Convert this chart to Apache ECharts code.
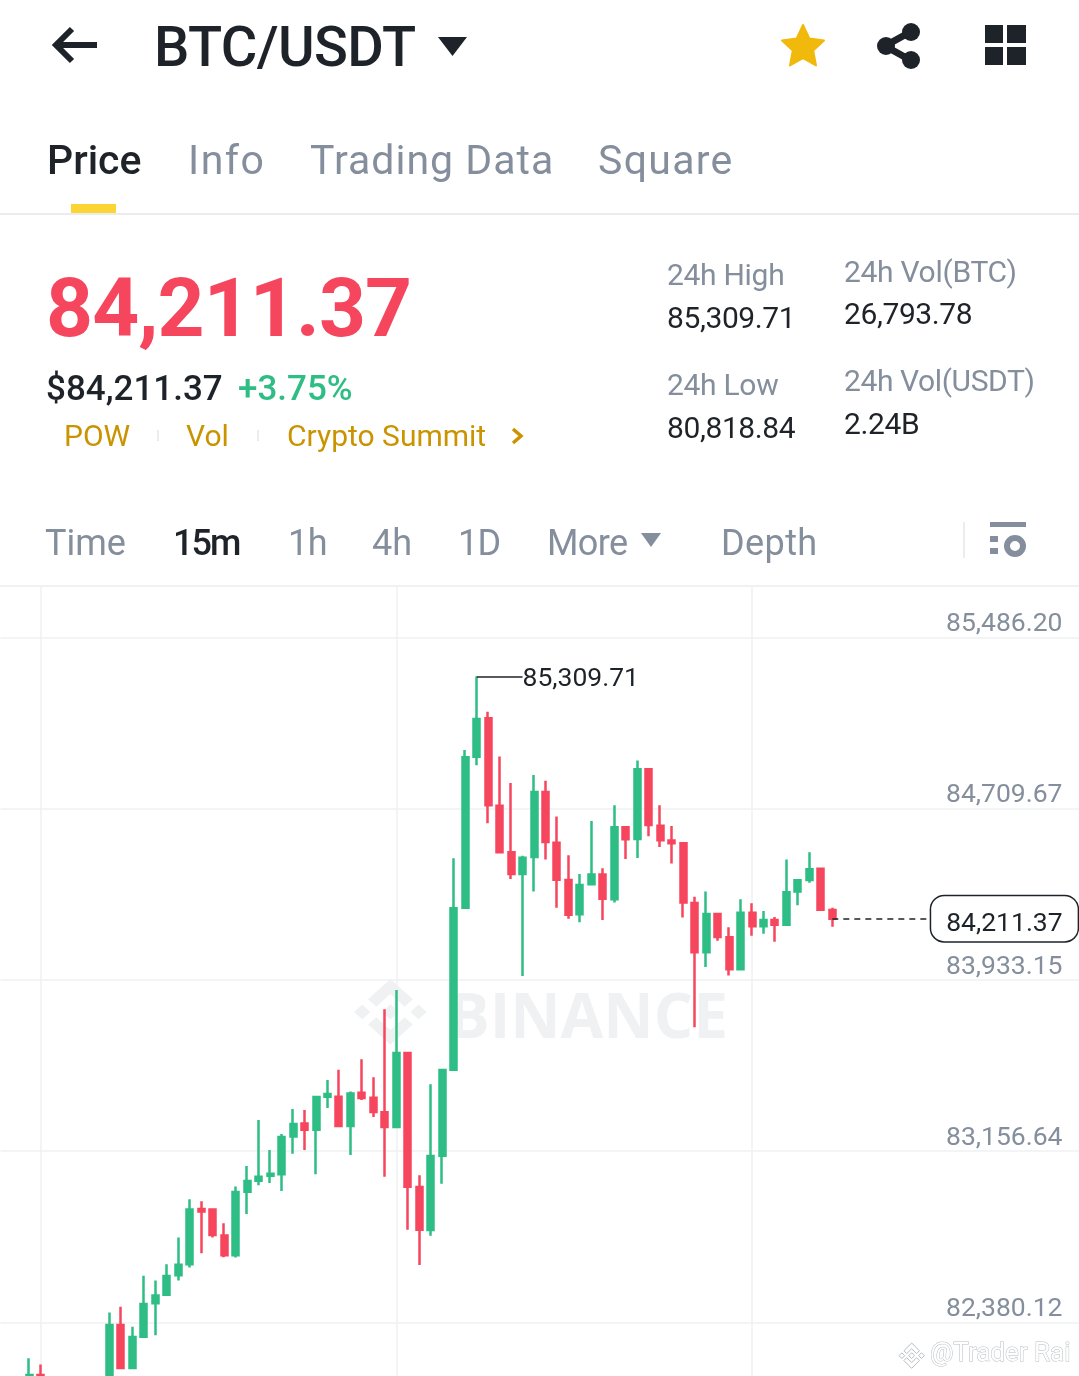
<!DOCTYPE html>
<html>
<head>
<meta charset="utf-8">
<title>BTC/USDT</title>
<script src="https://cdn.jsdelivr.net/npm/echarts@6/dist/echarts.min.js"></script>
<style>
html,body{margin:0;padding:0;background:#fff;width:1079px;height:1376px;overflow:hidden;font-family:Roboto,sans-serif}
#main{position:absolute;left:0;top:0;width:1079px;height:1376px}
.t{position:absolute;white-space:nowrap;line-height:1;color:#848e9c;z-index:2}
.dark{color:#1e2329}
.gold{color:#c99400}
.rule{position:absolute;background:#eaecef;z-index:2}
svg{position:absolute;z-index:2}
</style>
</head>
<body>
<div id="main"></div>

<!-- top bar -->
<svg style="left:50px;top:24px" width="50" height="42" viewBox="0 0 50 42"><path d="M47 21H6M22 5L6 21l16 16" fill="none" stroke="#1e2329" stroke-width="6"/></svg>
<span class="t dark" style="left:154px;top:19px;font-size:56px;font-weight:500;letter-spacing:-0.6px">BTC/USDT</span>
<svg style="left:438px;top:36px" width="30" height="21"><path d="M0 1h29L14.500 20z" fill="#1e2329"/></svg>
<svg style="left:779px;top:22px" width="48" height="48" viewBox="0 0 24 24"><path d="M12 1.500l3.200 6.800 7.300.9-5.400 5.100 1.400 7.400L12 18.100l-6.500 3.600 1.400-7.400L1.500 9.200l7.300-.9z" fill="#f0b90b" stroke="#f0b90b" stroke-linejoin="round"/></svg>
<svg style="left:876px;top:22px" width="46" height="48" viewBox="0 0 46 48"><path d="M36 9L9 24l27 15" fill="none" stroke="#1e2329" stroke-width="7"/><circle cx="35" cy="10" r="9" fill="#1e2329"/><circle cx="10" cy="24" r="9" fill="#1e2329"/><circle cx="35" cy="38" r="9" fill="#1e2329"/></svg>
<svg style="left:985px;top:25px" width="41" height="41"><path d="M0 0h18v18H0zM22 0h19v18H22zM0 22h18v18H0zM22 22h19v18H22z" fill="#1e2329"/></svg>

<!-- tabs -->
<span class="t dark" style="left:47px;top:140px;font-size:41px;font-weight:500">Price</span>
<span class="t" style="left:188px;top:140px;font-size:41px;letter-spacing:1.500px">Info</span>
<span class="t" style="left:310px;top:140px;font-size:41px;letter-spacing:1px">Trading Data</span>
<span class="t" style="left:598px;top:140px;font-size:41px;letter-spacing:1.300px">Square</span>
<div class="rule" style="left:71px;top:204px;width:45px;height:9px;background:#fcd535"></div>
<div class="rule" style="left:0;top:213px;width:1079px;height:2px"></div>

<!-- price block -->
<span class="t" style="left:46px;top:267px;font-size:82px;font-weight:700;color:#f6465d;letter-spacing:-0.9px">84,211.37</span>
<span class="t dark" style="left:46px;top:371px;font-size:35px;font-weight:500">$84,211.37</span>
<span class="t" style="left:238px;top:371px;font-size:35px;font-weight:500;color:#2ebd85">+3.75%</span>
<span class="t gold" style="left:64px;top:421px;font-size:30px">POW</span>
<div class="rule" style="left:157px;top:430px;width:2px;height:11px"></div>
<span class="t gold" style="left:186px;top:421px;font-size:30px">Vol</span>
<div class="rule" style="left:257px;top:430px;width:2px;height:11px"></div>
<span class="t gold" style="left:287px;top:421px;font-size:30px">Crypto Summit</span>
<svg style="left:510px;top:426px" width="16" height="20"><path d="M3 3l8 7-8 7" fill="none" stroke="#c99400" stroke-width="3.500"/></svg>

<!-- 24h stats -->
<span class="t" style="left:667px;top:260px;font-size:30px;letter-spacing:-0.3px">24h High</span>
<span class="t dark" style="left:667px;top:303px;font-size:30px;letter-spacing:-0.4px">85,309.71</span>
<span class="t" style="left:667px;top:370px;font-size:30px;letter-spacing:-0.3px">24h Low</span>
<span class="t dark" style="left:667px;top:413px;font-size:30px;letter-spacing:-0.4px">80,818.84</span>
<span class="t" style="left:844px;top:257px;font-size:30px;letter-spacing:-0.3px">24h Vol(BTC)</span>
<span class="t dark" style="left:844px;top:299px;font-size:30px;letter-spacing:-0.4px">26,793.78</span>
<span class="t" style="left:844px;top:366px;font-size:30px;letter-spacing:-0.4px">24h Vol(USDT)</span>
<span class="t dark" style="left:844px;top:409px;font-size:30px;letter-spacing:-0.4px">2.24B</span>

<!-- interval row -->
<span class="t" style="left:45px;top:525px;font-size:36px">Time</span>
<span class="t dark" style="left:173px;top:525px;font-size:36px;font-weight:500;letter-spacing:-2px">15m</span>
<span class="t" style="left:288px;top:525px;font-size:36px;letter-spacing:-0.5px">1h</span>
<span class="t" style="left:372px;top:525px;font-size:36px">4h</span>
<span class="t" style="left:458px;top:525px;font-size:36px;letter-spacing:-0.8px">1D</span>
<span class="t" style="left:547px;top:525px;font-size:36px;letter-spacing:-0.6px">More</span>
<svg style="left:641px;top:533px" width="21" height="15"><path d="M0 0h20L10 14z" fill="#848e9c"/></svg>
<span class="t" style="left:721px;top:525px;font-size:36px;letter-spacing:0.4px">Depth</span>
<div class="rule" style="left:963px;top:522px;width:2px;height:36px"></div>
<svg style="left:990px;top:522px" width="37" height="37"><path d="M0 0h36v5H0zM0 14h8v6H0zM0 26h8v6H0z" fill="#848e9c"/><circle cx="25" cy="24" r="8" fill="none" stroke="#848e9c" stroke-width="6"/></svg>
<div class="rule" style="left:0;top:585px;width:1079px;height:2px;background:#eff1f3"></div>

<script>
// price ladder printed on the right edge
var priceTicks = [82380.12, 83156.64, 83933.15, 84709.67, 85486.20];
var lastPrice = 84211.37;
var highPrice = 85309.71;

// 15m candles. bars 2-6 sit below the visible area
var opens = [82133,82142,null,null,null,null,null,82029,82369,82174,82316,82467,82506,82594,82644,82895,82893,82775,82685,82973,83023,83046,83052,83223,83282,83254,83404,83404,83271,83422,83399,83333,83267,83602,82994,82799,83136,83526,84261,84946,85120,84723,84512,84414,84491,84786,84556,84387,84231,84367,84411,84299,84626,84572,84889,84633,84566,84553,84282,84059,84232,84127,83982,84238,84177,84205,84184,84335,84387,84438,84251];
var closes = [82142,82133,null,null,null,null,null,82369,82174,82314,82464,82503,82591,82642,82893,82883,82777,82685,82972,83022,83041,83055,83221,83280,83254,83403,83416,83271,83419,83398,83335,83267,83602,82996,82801,83135,83525,84258,84943,85117,84725,84512,84414,84488,84786,84559,84388,84229,84364,84411,84302,84626,84571,84889,84636,84567,84553,84285,84059,84232,84128,83982,84238,84177,84205,84184,84331,84385,84435,84252,84211.37];
var lows = [82051,82065,null,null,null,null,null,82000,82172,82172,82314,82322,82504,82570,82630,82694,82766,82676,82675,82872,83002,83013,82976,83145,83162,83052,83353,83267,83140,83389,83312,83041,83265,82801,82641,82774,83009,83524,84259,84907,84644,84509,84391,83951,84335,84480,84261,84211,84195,84365,84205,84285,84482,84486,84585,84536,84461,84217,83719,83992,84111,83954,83980,84134,84143,84107,84182,84272,84374,84246,84175];
var highs = [82218,82190,null,null,null,null,null,82426,82452,82361,82592,82570,82644,82766,82939,82930,82896,82830,82997,83090,83298,83162,83235,83348,83344,83408,83480,83526,83428,83574,83492,83800,83888,83604,83048,83460,83530,84485,84976,85309.71,85150,84947,84826,84497,84863,84837,84675,84499,84414,84654,84440,84725,84631,84929,84894,84725,84631,84555,84311,84334,84236,84172,84299,84281,84246,84219,84480,84389,84512,84442,84261];

var leadSlots = 2;   // empty slots left of the first candle
var totalSlots = 94;
var slots = [];
for (var s = 0; s < totalSlots; s++) slots.push('b' + s);
var timeLineSlots = [3, 34, 65];   // vertical grid lines

var candles = [];
for (var l = 0; l < leadSlots; l++) candles.push('-');
opens.forEach(function (o, i) {
  candles.push(o === null ? '-' : [o, closes[i], lows[i], highs[i]]);
});

var lastSlot = candles.length - 1;
var highSlot = leadSlots + highs.indexOf(highPrice);

function fmt(v) {
  return v.toLocaleString('en-US', { minimumFractionDigits: 2, maximumFractionDigits: 2 });
}

// exchange mark, five pieces in a 127 box
var logoPieces = [
  [[38.73,53.2],[63.32,28.62],[87.92,53.22],[102.22,38.91],[63.32,0],[24.42,38.9]],
  [[0,63.31],[14.3,49],[28.61,63.31],[14.3,77.61]],
  [[38.73,73.41],[63.32,98],[87.92,73.4],[102.23,87.69],[63.33,126.6],[24.42,87.72]],
  [[98.01,63.32],[112.31,49.01],[126.62,63.31],[112.31,77.63]],
  [[77.83,63.3],[63.32,48.78],[48.8,63.3],[63.32,77.8]]
];
function logo(x, y, sx, sy, z, style) {
  return {
    type: 'group', x: x, y: y, scaleX: sx, scaleY: sy, z: z, silent: true,
    children: logoPieces.map(function (p) {
      return { type: 'polygon', z: z, shape: { points: p }, style: style };
    })
  };
}

var myChart = echarts.init(document.getElementById('main'), null, { renderer: 'canvas' });
myChart.setOption({
  animation: false,
  backgroundColor: 'transparent',
  grid: { left: 0.5, right: -1.5, top: 587, bottom: 0 },
  xAxis: {
    type: 'category',
    data: slots,
    axisLine: { show: false },
    axisTick: { show: false },
    axisLabel: { show: false },
    splitLine: {
      show: true,
      alignWithLabel: true,
      interval: function (i) { return timeLineSlots.indexOf(i) >= 0; },
      lineStyle: { color: '#eef0f2', width: 1.5 }
    }
  },
  yAxis: {
    type: 'value',
    position: 'right',
    min: 82137.5,
    max: 85715.2,
    axisLine: { show: false },
    axisTick: { show: false, customValues: priceTicks },
    axisLabel: {
      customValues: priceTicks,
      inside: true,
      margin: 16.5,
      verticalAlign: 'bottom',
      lineHeight: 26,
      color: '#848e9c',
      fontFamily: 'Roboto',
      fontSize: 26.5,
      formatter: fmt
    },
    splitLine: { show: true, lineStyle: { color: '#eef0f2', width: 1.5 } }
  },
  graphic: { elements: [
    logo(354, 979, 0.575, 0.52, 0, { fill: '#f0f1f2' }),
    { type: 'text', x: 448, y: 1020, z: 0, silent: true,
      style: { text: 'BINANCE', fill: '#f0f1f2', font: '700 62px "Open Sans"', verticalAlign: 'middle' } },
    logo(899, 1343, 0.2, 0.2, 10, { fill: '#fff', stroke: '#b8bcc0', lineWidth: 5 }),
    { type: 'text', x: 930, y: 1354, z: 10, silent: true,
      style: { text: '@Trader Rai', fill: '#fff', stroke: '#b8bcc0', lineWidth: 1, font: '26px Roboto', verticalAlign: 'middle' } }
  ] },
  series: [{
    type: 'candlestick',
    data: candles,
    barWidth: 6.5,
    itemStyle: {
      color: '#2ebd85',
      color0: '#f6465d',
      borderColor: '#2ebd85',
      borderColor0: '#f6465d',
      borderWidth: 2.5
    },
    markLine: {
      silent: true,
      symbol: 'none',
      animation: false,
      data: [
        [{ coord: [highSlot, highPrice] }, { coord: [highSlot + 4, highPrice] }],
        [{ coord: [lastSlot, lastPrice], lineStyle: { type: [6, 5] }, label: { show: false } }, { coord: [lastSlot + 9, lastPrice] }]
      ],
      lineStyle: { color: '#1e2329', width: 1.5, type: 'solid' },
      label: {
        show: true,
        position: 'end',
        distance: 0,
        offset: [0, 3],
        color: '#1e2329',
        fontFamily: 'Roboto',
        fontSize: 26.5,
        formatter: function () { return fmt(highPrice); }
      }
    },
    markPoint: {
      silent: true,
      animation: false,
      data: [{
        coord: [87, lastPrice],
        symbol: 'circle',
        symbolSize: 1,
        itemStyle: { color: 'transparent' },
        label: {
          show: true,
          position: 'inside',
          backgroundColor: '#fff',
          borderColor: '#1e2329',
          borderWidth: 1.5,
          borderRadius: 13,
          padding: [9.5, 15, 9.5, 15],
          formatter: function () { return '{v|' + fmt(lastPrice) + '}'; },
          rich: {
            v: {
              color: '#1e2329',
              fontFamily: 'Roboto',
              fontSize: 26.5,
              lineHeight: 26,
              padding: [12, 0, 0, 0]
            }
          }
        }
      }]
    }
  }]
});
</script>
</body>
</html>
